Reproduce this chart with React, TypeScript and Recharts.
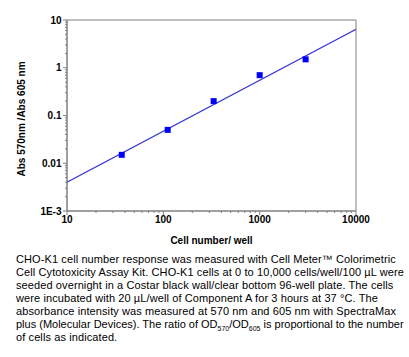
import React from 'react';
import { ComposedChart, XAxis, YAxis, Scatter, Line, ReferenceArea } from 'recharts';

const cellNumbers = [37, 111, 333, 1000, 3000];
const absRatios = [0.015, 0.05, 0.2, 0.7, 1.5];
const fitX = [10, 10000];
const fitY = [0.004, 6.4];
const xMajorTicks = [10, 100, 1000, 10000];
const yMajorTicks = [0.001, 0.01, 0.1, 1, 10];
const yTickLabels = ['1E-3', '0.01', '0.1', '1', '10'];
const xMinorTicks = [20, 30, 40, 50, 60, 70, 80, 90, 200, 300, 400, 500, 600, 700, 800, 900, 2000, 3000, 4000, 5000, 6000, 7000, 8000, 9000];
const yMinorTicks = [
  0.002, 0.003, 0.004, 0.005, 0.006, 0.007, 0.008, 0.009,
  0.02, 0.03, 0.04, 0.05, 0.06, 0.07, 0.08, 0.09,
  0.2, 0.3, 0.4, 0.5, 0.6, 0.7, 0.8, 0.9,
  2, 3, 4, 5, 6, 7, 8, 9,
];

const points = cellNumbers.map((x, i) => ({ x, y: absRatios[i] }));
const fitData = fitX.map((x, i) => ({ x, y: fitY[i] }));
const xTicks = [...xMajorTicks, ...xMinorTicks].sort((a, b) => a - b);
const yTicks = [...yMajorTicks, ...yMinorTicks].sort((a, b) => a - b);

const FONT = 'Arial, "Liberation Sans", sans-serif';
const AXIS_COLOR = '#808080';

const XTick = (props: any) => {
  const { x, y, payload } = props;
  const isMajor = xMajorTicks.includes(payload.value);
  return (
    <g>
      <line x1={x} x2={x} y1={y} y2={y + (isMajor ? 4 : 2)} stroke={AXIS_COLOR} strokeWidth={1} />
      {isMajor && (
        <text x={x} y={y + 12} textAnchor="middle" fontFamily={FONT} fontWeight="bold" fontSize={10} fill="#000">
          {String(payload.value)}
        </text>
      )}
    </g>
  );
};

const YTick = (props: any) => {
  const { x, y, payload } = props;
  const idx = yMajorTicks.indexOf(payload.value);
  const isMajor = idx >= 0;
  return (
    <g>
      <line x1={x} x2={x - (isMajor ? 4 : 2)} y1={y} y2={y} stroke={AXIS_COLOR} strokeWidth={1} />
      {isMajor && (
        <text x={x - 5.5} y={y + 3.5} textAnchor="end" fontFamily={FONT} fontWeight="bold" fontSize={10} fill="#000">
          {yTickLabels[idx]}
        </text>
      )}
    </g>
  );
};

const YLabel = (props: any) => {
  const vb = props.viewBox || {};
  const cx = (vb.x ?? 0) + 24.5;
  const cy = (vb.y ?? 0) + vb.height / 2 + 3.5;
  return (
    <text x={cx} y={cy} transform={`rotate(-90, ${cx}, ${cy})`} textAnchor="middle" fontFamily={FONT} fontWeight="bold" fontSize={10} fill="#000">
      Abs 570nm /Abs 605 nm
    </text>
  );
};

const XLabel = (props: any) => {
  const vb = props.viewBox || {};
  const cx = (vb.x ?? 0) + vb.width / 2;
  const cy = (vb.y ?? 0) + 32.5;
  return (
    <text x={cx} y={cy} textAnchor="middle" fontFamily={FONT} fontWeight="bold" fontSize={10} fill="#000">
      Cell number/ well
    </text>
  );
};

const Square = (props: any) => {
  const { cx, cy } = props;
  return <rect x={cx - 3} y={cy - 3} width={6} height={6} fill="#0000ff" />;
};

const subStyle = { fontSize: 7, verticalAlign: 'sub', lineHeight: 0 } as const;

export default function App() {
  return (
    <div style={{ position: 'absolute', left: 0, top: 0, width: 409, height: 357, background: '#fff' }}>
      <ComposedChart width={409} height={251} margin={{ top: 20, right: 53, left: 0, bottom: 0 }}>
        <XAxis
          dataKey="x"
          type="number"
          scale="log"
          domain={[10, 10000]}
          allowDataOverflow
          ticks={xTicks}
          interval={0}
          tickSize={0}
          tickMargin={0}
          tickLine={false}
          tick={<XTick />}
          axisLine={{ stroke: AXIS_COLOR }}
          height={40}
          label={<XLabel />}
        />
        <YAxis
          dataKey="y"
          type="number"
          scale="log"
          domain={[0.001, 10]}
          allowDataOverflow
          ticks={yTicks}
          interval={0}
          tickSize={0}
          tickMargin={0}
          tickLine={false}
          tick={<YTick />}
          axisLine={{ stroke: AXIS_COLOR }}
          width={67}
          label={<YLabel />}
        />
        <ReferenceArea x1={10} x2={10000} y1={0.001} y2={10} fill="none" stroke={AXIS_COLOR} strokeWidth={1} ifOverflow="visible" />
        <Line data={fitData} dataKey="y" stroke="#3838d8" strokeWidth={1.2} dot={false} isAnimationActive={false} />
        <Scatter data={points} dataKey="y" shape={<Square />} isAnimationActive={false} />
      </ComposedChart>
      <div
        style={{
          position: 'absolute',
          left: 16,
          top: 252.5,
          fontFamily: FONT,
          fontSize: 11,
          lineHeight: '13px',
          letterSpacing: '0.1px',
          color: '#000',
          whiteSpace: 'nowrap',
        }}
      >
        CHO-K1 cell number response was measured with Cell Meter™ Colorimetric<br />
        Cell Cytotoxicity Assay Kit. CHO-K1 cells at 0 to 10,000 cells/well/100 µL were<br />
        seeded overnight in a Costar black wall/clear bottom 96-well plate. The cells<br />
        were incubated with 20 µL/well of Component A for 3 hours at 37 °C. The<br />
        absorbance intensity was measured at 570 nm and 605 nm with SpectraMax<br />
        <span style={{ letterSpacing: 0 }}>
          plus (Molecular Devices). The ratio of OD<sub style={subStyle}>570</sub>/OD
          <sub style={subStyle}>605</sub> is proportional to the number
        </span>
        <br />
        of cells as indicated.
      </div>
    </div>
  );
}
